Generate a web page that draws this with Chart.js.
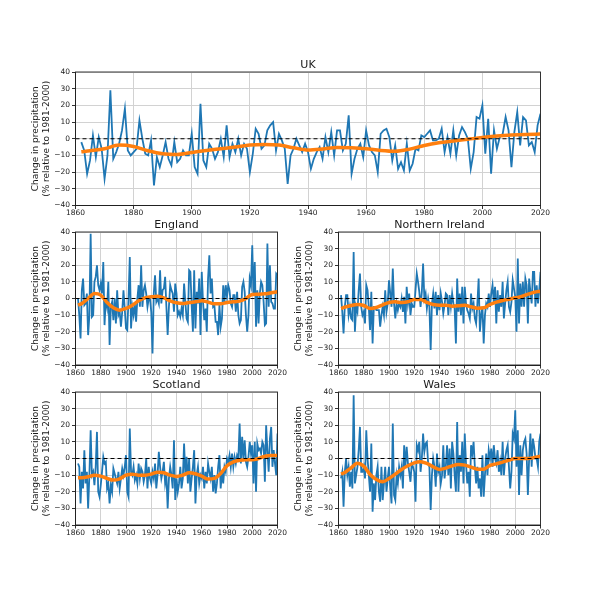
<!DOCTYPE html>
<html>
<head>
<meta charset="utf-8">
<script src="https://cdn.jsdelivr.net/npm/chart.js"></script>
<style>
  html, body { margin: 0; padding: 0; background: #fff; }
  body { width: 600px; height: 600px; position: relative; overflow: hidden; }
  canvas { position: absolute; }
</style>
</head>
<body>
<canvas id="uk"></canvas>
<canvas id="england"></canvas>
<canvas id="nireland"></canvas>
<canvas id="scotland"></canvas>
<canvas id="wales"></canvas>
<script>
// yearly anomalies, 1862-2020 (% relative to 1981-2000)
const years = [];
for (let y = 1862; y <= 2020; y++) years.push(y);

const ukValues = [
  -2, -7, -21, -13, 2, -11, 1, -6,
  -24, -10, 29, -12, -8, -3, 5, 18, -7, -10,
  -8, -6, 11, 0, -9, -10, -1, -28, -11, -17,
  -10, -2, -12, -16, -2, -14, -12, -7, -10, -10,
  3, -17, -21, 21, -13, -17, -3, -6, -12, -8,
  0, -11, 8, -11, -3, -8, 0, -10, -3, -6,
  -20, -9, 6, 3, -6, -4, 5, 8, 10, -7,
  3, -1, -6, -27, -10, -6, 0, -4, -8, -3,
  -8, -18, -12, -8, -5, -12, 1, -8, 4, -10,
  5, 5, -7, -3, 14, -21, -12, -6, -3, -11,
  5, -4, -8, -10, -20, 3, 5, 6, 1, -13,
  -4, -18, -14, -19, -3, -19, -15, -6, -7, 2,
  1, 3, 5, -1, -1, 0, 6, -8, 1, -9,
  5, -10, 2, 7, 4, 0, -18, -8, 13, 12,
  20, -9, 12, -21, 5, -6, 1, 3, 13, 5,
  -17, 4, 16, -4, 13, 11, -4, -2, -8, 8,
  15
];
const englandValues = [
  0, -10, -24, 5, 12, -4, -3, 3,
  -22, -10, 39, -11, -10, 10, 13, 20, 8, 5,
  9, 3, 22, -16, 0, -5, 10, -28, -5, -2,
  -13, 0, -15, 5, -10, -8, -17, -8, 5, -6,
  -18, -19, 0, 25, -18, -5, -10, -3, -14, 0,
  8, -5, 20, -5, 5, 8, 3, -5, 0, 0,
  -8, -33, 3, 14, -2, 0, -3, 17, -3, 5,
  6, 13, -5, -22, -5, 8, 5, 3, -8, 9,
  3, -10, -8, -11, -6, -10, 9, -2, -12, -14,
  17, 16, -4, -20, 17, -18, 4, -3, 12, -22,
  16, -2, -13, -6, -20, 12, 26, 3, 12, -5,
  -4, -14, -14, -22, -4, -17, -12, 8, -2, 8,
  1, 8, 5, -3, -5, 2, 2, -8, 4, -10,
  -15, -13, 7, 10, 4, -10, -20, -10, 12, 8,
  32, 2, 22, -17, 5, -15, 3, 10, 8, -2,
  -16, -15, 33, -5, 20, -2, -3, -6, -6, 15,
  14
];
const nirelandValues = [
  2, -8, -21, -5, 2, 2, -10, -5,
  -12, -13, 28, -20, -5, -8, 5, 15, -5, -10,
  -8, -15, 8, 5, -5, -19, 4, -27, -5, -5,
  -7, -7, -7, -17, -10, -5, -10, 5, -8, -3,
  11, 3, -5, 18, -3, -12, -3, -7, -3, -5,
  0, -8, 1, -15, 7, -3, 3, -10, -3, -5,
  -5, 5, 15, 10, 4, -5, 4, 21, 0, 3,
  -6, 0, -5, -31, -3, 3, -6, 4, -10, 2,
  -7, 3, -2, -9, -4, 3, 2, -10, 2, -5,
  3, -3, -6, -27, 12, -8, 3, -10, 7, -15,
  7, -3, -7, -9, -12, 3, -6, -3, -12, -15,
  -3, 12, -20, -10, -5, -27, -10, -3, -5, 3,
  -5, 3, 8, -2, 7, -15, 5, -8, 2, -5,
  10, -12, -3, 5, 10, -5, -8, -2, 11, 6,
  1, -20, 24, -15, 9, -5, 10, -5, 12, 8,
  -15, 12, 4, -3, 16, 16, -5, 8, -3, 5,
  16
];
const scotlandValues = [
  -3, -5, -27, -8, -18, 5, -15, -8,
  -30, -10, 17, -10, -8, -16, -5, 16, -20, -23,
  -16, -8, 1, -3, -2, -18, -15, -27, -16, -20,
  -6, -9, -12, -15, -8, -18, -12, -6, -10, -5,
  2, -20, -23, 18, -8, -10, -5, -13, -10, -15,
  -3, -12, -6, -8, -14, -10, 0, -18, -5, -12,
  -15, -8, -12, -3, -18, -10, 4, -5, -12, -8,
  -2, -15, -10, -30, -12, -5, -10, -18, 11, -25,
  -12, -20, -15, -5, -18, -12, 9, -10, 1, -15,
  0, -20, -12, -5, 5, -27, -10, -5, -15, -10,
  -12, -5, -18, -8, -15, -3, -8, -12, -5, -20,
  -10, -21, -15, -5, 2, -18, -8, -15, -5, -8,
  0, -2, 2, -5, 3, -5, 1, -3, 2, 0,
  21, -3, 13, 0, 11, -2, -5, 1, 10, 3,
  8, -15, 10, -20, 9, 5, 6, 3, 10, 8,
  -14, 20, 5, -8, 12, 19, -5, 5, -3, -10,
  15
];
const walesValues = [
  -12, -8, -29, -8, 0, -10, -5, -17,
  -8, -18, 38, -15, -10, -5, 5, 19, -8, -8,
  -5, -12, 17, 0, -10, -20, 9, -32, -15, -25,
  -10, -5, -20, -26, -5, -25, -15, -5, -20, -12,
  -5, -17, -27, 21, -22, -25, -10, -15, -5, -10,
  -5, -18, 8, -5, 7, -3, -8, -14, -3, -5,
  -8, -26, 8, 5, 10, -8, 0, 15, 4, 9,
  10, -3, -5, -31, -10, 0, -5, -17, 3, -8,
  -5, -15, -10, 8, -12, -5, 8, -10, 6, -18,
  10, 3, -10, -20, 22, -20, 2, -8, 10, -15,
  15, -3, -15, -8, -23, 8, 3, 10, -5, -15,
  -5, -18, -12, -23, 2, -23, -10, 3, -10, 5,
  0, 6, -5, 8, 0, -3, 5, -8, -2, -10,
  10, -10, 0, 5, 8, -5, -18, -8, 15, 12,
  29, -5, 17, -22, 8, -10, 5, 10, 12, 3,
  -22, 0, 15, -5, 12, 7, 0, 0, -5, 10,
  15
];

const smoothYears = [1862, 1865, 1870, 1875, 1880, 1885, 1890, 1895, 1900, 1905, 1910,
  1915, 1920, 1925, 1930, 1935, 1940, 1945, 1950, 1955, 1960, 1965, 1970, 1975,
  1980, 1985, 1990, 1995, 2000, 2005, 2010, 2015, 2020];
const ukSmooth = [-7.8, -7.2, -6, -3.8, -4.6, -7.2, -9, -9.4, -8.2, -7, -6,
  -5, -3.8, -3.4, -3.8, -5.4, -6.8, -6.2, -5.2, -5.4, -6, -7, -7.5, -6.2,
  -4, -2.4, -1.4, -0.3, 0.8, 1.6, 2.2, 2.6, 2.8];
const englandSmooth = [-4, -3, 0, 3, 2, -2.4, -5.6, -7, -6, -4, -1.4,
  0.4, 1, 1.4, 0.4, -1.4, -2.6, -3, -2.4, -2, -1.4, -2.2, -3.2, -3.2,
  -2.4, -2, -1.6, 0, 2.4, 2.6, 2.8, 3.4, 4];
const nirelandSmooth = [-6, -5.2, -4.2, -3.6, -4.2, -6, -5.4, -3.8, -2.4, -2, -2.4,
  -2, -0.6, -0.6, -2.4, -3.6, -4, -4, -4.6, -4.4, -4, -5, -5.8, -5.6,
  -3.6, -2.2, -1.2, -0.4, 0.4, 1.2, 2.6, 3.8, 4.4];
const scotlandSmooth = [-11.6, -11.6, -11, -10, -10.6, -12, -13, -12.2, -10, -9.4, -10,
  -10, -9.4, -8.2, -8.6, -10, -10.8, -10, -8.6, -9.2, -10.6, -12.4, -12, -9,
  -4.4, -2, -1, -0.8, -0.8, 0, 1.4, 1.8, 1.8];
const walesSmooth = [-9.4, -8.4, -5.6, -2.8, -4.6, -9.6, -12.6, -14, -12, -9.4, -6.6,
  -4.4, -2.6, -2, -3, -5, -6.6, -5.8, -4.4, -3.6, -4, -5.2, -6.4, -6.4,
  -4.2, -3.2, -2.2, -1, 0, 0, 0, 0.6, 1.4];

const xTicks = [1860, 1880, 1900, 1920, 1940, 1960, 1980, 2000, 2020];
const yTicks = [-40, -30, -20, -10, 0, 10, 20, 30, 40];
const baseline = 0;
const yLabel = ['Change in precipitation', '(% relative to 1981-2000)'];

const BLUE = '#1f77b4';
const ORANGE = '#ff7f0e';
const FONT = "'DejaVu Sans', sans-serif";
const TEXT = '#1a1a1a';
const GRID = '#d2d2d2';

// matplotlib style box round the axes
const framePlugin = {
  id: 'frame',
  afterDraw(chart) {
    const { ctx, chartArea: a } = chart;
    ctx.save();
    ctx.strokeStyle = '#222';
    ctx.lineWidth = 0.9;
    ctx.strokeRect(a.left, a.top, a.right - a.left, a.bottom - a.top);
    ctx.restore();
  }
};

function drawPanel(id, name, values, smooth, box) {
  const canvas = document.getElementById(id);
  canvas.width = box.w;
  canvas.height = box.h;
  canvas.style.left = box.left + 'px';
  canvas.style.top = box.top + 'px';

  new Chart(canvas, {
    type: 'line',
    data: {
      datasets: [
        {
          data: [{ x: xTicks[0], y: baseline }, { x: xTicks[xTicks.length - 1], y: baseline }],
          borderColor: '#000', borderWidth: 1.2, borderDash: [4, 3],
          pointRadius: 0, order: 0
        },
        {
          data: smoothYears.map((x, i) => ({ x, y: smooth[i] })),
          borderColor: ORANGE, borderWidth: 3.5, pointRadius: 0,
          cubicInterpolationMode: 'monotone', order: 1
        },
        {
          data: years.map((x, i) => ({ x, y: values[i] })),
          borderColor: BLUE, borderWidth: 1.8, pointRadius: 0,
          tension: 0, order: 2
        }
      ]
    },
    options: {
      responsive: false,
      animation: false,
      layout: { padding: 0 },
      plugins: {
        legend: { display: false },
        tooltip: { enabled: false },
        title: {
          display: true, text: name, color: TEXT,
          font: { family: FONT, size: 11, weight: 'normal', lineHeight: 1 },
          padding: { top: 8, bottom: 1 }
        }
      },
      scales: {
        x: {
          type: 'linear', min: xTicks[0], max: xTicks[xTicks.length - 1],
          afterBuildTicks: s => { s.ticks = xTicks.map(v => ({ value: v })); },
          afterFit: s => { s.height = box.xh; },
          ticks: {
            callback: v => String(v), color: TEXT, padding: 0,
            maxRotation: 0, autoSkip: false,
            font: { family: FONT, size: 7.5 }
          },
          grid: { color: GRID, tickColor: '#333', tickLength: 3.5 },
          border: { color: '#222' }
        },
        y: {
          min: yTicks[0], max: yTicks[yTicks.length - 1],
          afterBuildTicks: s => { s.ticks = yTicks.map(v => ({ value: v })); },
          afterFit: s => { s.width = 55.5; },
          ticks: {
            callback: v => v < 0 ? '\u2212' + (-v) : String(v),
            color: TEXT, padding: 2,
            font: { family: FONT, size: 7.5 }
          },
          grid: { color: GRID, tickColor: '#333', tickLength: 3.5 },
          border: { color: '#222' },
          title: {
            display: true, text: yLabel, color: TEXT,
            font: { family: FONT, size: 9, lineHeight: 1.2 },
            padding: { top: 10.6, bottom: 0 }
          }
        },
        // empty right axis so the title centres over the plot
        y2: {
          position: 'right', min: yTicks[0], max: yTicks[yTicks.length - 1],
          afterFit: s => { s.width = 55.5; },
          ticks: { display: false },
          grid: { display: false, drawTicks: false },
          border: { display: false }
        }
      }
    },
    plugins: [framePlugin]
  });
}

drawPanel('uk', 'UK', ukValues, ukSmooth, { left: 20, top: 52, w: 576, h: 170, xh: 16.5 });
drawPanel('england', 'England', englandValues, englandSmooth, { left: 20, top: 212, w: 313, h: 170, xh: 17 });
drawPanel('nireland', 'Northern Ireland', nirelandValues, nirelandSmooth, { left: 282.5, top: 212, w: 313, h: 170, xh: 17 });
drawPanel('scotland', 'Scotland', scotlandValues, scotlandSmooth, { left: 20, top: 372, w: 313, h: 170, xh: 17 });
drawPanel('wales', 'Wales', walesValues, walesSmooth, { left: 282.5, top: 372, w: 313, h: 170, xh: 17 });
</script>
</body>
</html>
